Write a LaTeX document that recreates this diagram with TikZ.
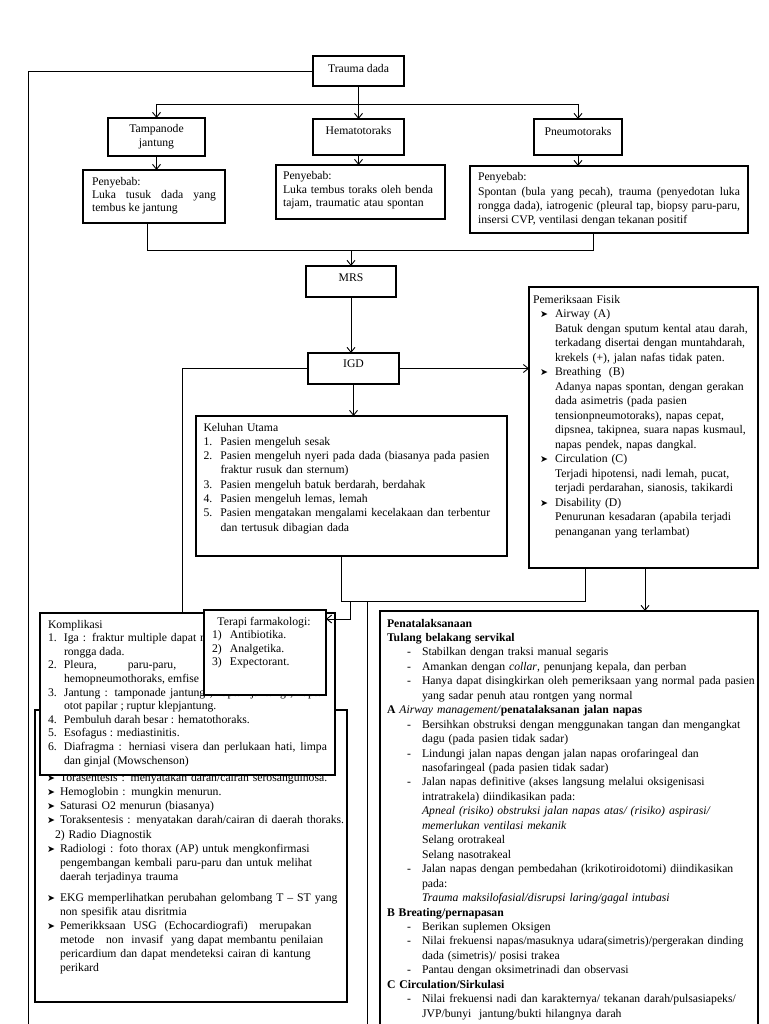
\documentclass[tikz,border=0pt]{standalone}
\usepackage{fontspec}
\setmainfont{Liberation Serif}
\newfontfamily\symf{DejaVu Sans}
\usetikzlibrary{arrows.meta}
\hyphenpenalty=10000
\exhyphenpenalty=10000
\newcommand\bulx{{\symf\fontsize{9.5}{10}\selectfont ➤}}
\newcommand\pemB[1]{\hspace*{7pt}\makebox[15pt][l]{\bulx}#1}
\newcommand\pemC[1]{\hspace*{22pt}#1}
\newcommand\labB[1]{\makebox[13pt][l]{\bulx}#1}
\newcommand\labC[1]{\hspace*{13pt}#1}
\newcommand\penD[1]{\hspace*{20pt}\makebox[15pt][l]{-}#1}
\newcommand\penC[1]{\hspace*{35pt}#1}
\newcommand\kelN[2]{\makebox[17pt][l]{#1}#2}
\newcommand\komN[1]{\makebox[16pt][l]{#1}}
\begin{document}
\begin{tikzpicture}[x=1pt,y=-1pt,
  box/.style={draw, line width=1.3pt, fill=white, inner sep=0pt, outer sep=0pt, rectangle},
  txt/.style={inner sep=0pt, outer sep=0pt, font=\fontsize{11.7}{14.3}\selectfont},
  ln/.style={line width=0.9pt},
  arr/.style={line width=0.9pt, -{Straight Barb[length=5pt,width=8pt]}}]
\useasboundingbox (0,0) rectangle (768,1024);
\clip (0,0) rectangle (768,1024);

% ---------- top level ----------
\node[box, minimum width=91pt, minimum height=30pt] (trauma) at (358.5,71) {};
\node[txt, anchor=base] (traumaT) at (358.5,72.5) {Trauma dada};

\node[box, minimum width=97pt, minimum height=38pt] (tamp) at (156.5,137) {};
\node[txt, anchor=base, text width=95pt, align=center, font=\fontsize{11.7}{14}\selectfont] (tampT) at (156.5,133) {Tampanode\\jantung};

\node[box, minimum width=91pt, minimum height=36pt] (hem) at (358.5,137) {};
\node[txt, anchor=base] (hemT) at (358.5,135) {Hematotoraks};

\node[box, minimum width=88pt, minimum height=36pt] (pneu) at (578,137) {};
\node[txt, anchor=base] (pneuT) at (578,136) {Pneumotoraks};

% ---------- penyebab ----------
\node[box, minimum width=142pt, minimum height=53pt] (tpen) at (154,196.5) {};
\node[txt, anchor=base west, text width=124pt, align=justify, font=\fontsize{11.7}{13}\selectfont] (tpenT) at (92,186) {Penyebab:\par Luka tusuk dada yang\linebreak tembus ke jantung\par};

\node[box, minimum width=169pt, minimum height=54pt] (hpen) at (360.5,192) {};
\node[txt, anchor=base west, text width=165pt, align=left, font=\fontsize{11.7}{13.5}\selectfont] (hpenT) at (283,180) {Penyebab:\\Luka tembus toraks oleh benda\\tajam, traumatic atau spontan};

\node[box, minimum width=278pt, minimum height=67pt] (ppen) at (609,199.5) {};
\node[txt, anchor=base west, text width=262pt, align=justify, font=\fontsize{11.7}{14.3}\selectfont] (ppenT) at (478,181) {Penyebab:\par Spontan (bula yang pecah), trauma (penyedotan luka\linebreak rongga dada), iatrogenic (pleural tap, biopsy paru-paru,\linebreak insersi CVP, ventilasi dengan tekanan positif\par};

% ---------- MRS / IGD ----------
\node[box, minimum width=90pt, minimum height=31pt] (mrs) at (351,281.5) {};
\node[txt, anchor=base] (mrsT) at (351,281) {MRS};

\node[box, minimum width=91pt, minimum height=31pt] (igd) at (353.5,368.5) {};
\node[txt, anchor=base] (igdT) at (353.5,367) {IGD};

% ---------- Keluhan utama ----------
\node[box, minimum width=311pt, minimum height=140pt] (kel) at (351.5,486) {};
\node[txt, anchor=base west, text width=330pt, align=left, font=\fontsize{11.7}{14.3}\selectfont] (kelT) at (203.5,431) {Keluhan Utama\\
\kelN{1.}{Pasien mengeluh sesak}\\
\kelN{2.}{Pasien mengeluh nyeri pada dada (biasanya pada pasien}\\
\kelN{}{fraktur rusuk dan sternum)}\\
\kelN{3.}{Pasien mengeluh batuk berdarah, berdahak}\\
\kelN{4.}{Pasien mengeluh lemas, lemah}\\
\kelN{5.}{Pasien mengatakan mengalami kecelakaan dan terbentur}\\
\kelN{}{dan tertusuk dibagian dada}};

% ---------- Pemeriksaan fisik ----------
\node[box, minimum width=229pt, minimum height=281pt] (pem) at (643.5,427.5) {};
\node[txt, anchor=base west, text width=260pt, align=left, font=\fontsize{11.7}{14.5}\selectfont] (pemT) at (533,303) {Pemeriksaan Fisik\\
\pemB{Airway (A)}\\
\pemC{Batuk dengan sputum kental atau darah,}\\
\pemC{terkadang disertai dengan muntahdarah,}\\
\pemC{krekels (+), jalan nafas tidak paten.}\\
\pemB{Breathing\ \ (B)}\\
\pemC{Adanya napas spontan, dengan gerakan}\\
\pemC{dada asimetris (pada pasien}\\
\pemC{tensionpneumotoraks), napas cepat,}\\
\pemC{dipsnea, takipnea, suara napas kusmaul,}\\
\pemC{napas pendek, napas dangkal.}\\
\pemB{Circulation (C)}\\
\pemC{Terjadi hipotensi, nadi lemah, pucat,}\\
\pemC{terjadi perdarahan, sianosis, takikardi}\\
\pemB{Disability (D)}\\
\pemC{Penurunan kesadaran (apabila terjadi}\\
\pemC{penanganan yang terlambat)}};

% ---------- Pemeriksaan penunjang (behind) ----------
\node[box, minimum width=312pt, minimum height=292pt] (lab) at (191,856) {};
\node[txt, anchor=base west, text width=330pt, align=left, font=\fontsize{11.7}{14.1}\selectfont] (labT) at (47,781.6) {\labB{Torasentesis : menyatakan darah/cairan serosanguinosa.}\\
\labB{Hemoglobin : mungkin menurun.}\\
\labB{Saturasi O2 menurun (biasanya)}\\
\labB{Toraksentesis : menyatakan darah/cairan di daerah thoraks.}\\
\hspace*{8pt}2) Radio Diagnostik\\
\labB{Radiologi : foto thorax (AP) untuk mengkonfirmasi}\\
\labC{pengembangan kembali paru-paru dan untuk melihat}\\
\labC{daerah terjadinya trauma}\\[6.6pt]
\labB{EKG memperlihatkan perubahan gelombang T -- ST yang}\\
\labC{non spesifik atau disritmia}\\
\labB{Pemerikksaan\ \ USG\ \ (Echocardiografi)\ \ \ merupakan}\\
\labC{metode\ \ \ non\ \ invasif\ \ yang dapat membantu penilaian}\\
\labC{pericardium dan dapat mendeteksi cairan di kantung}\\
\labC{perikard}};

% ---------- Komplikasi ----------
\node[box, minimum width=295pt, minimum height=162pt] (kom) at (187.5,694) {};
\node[txt, anchor=base west, text width=279pt, align=justify, font=\fontsize{11.7}{13.6}\selectfont] (komT) at (48,628) {Komplikasi\par
\hangindent=16pt\komN{1.}Iga : fraktur multiple dapat m\phantom{enyebabkan} \phantom{kelumpuhan}\linebreak rongga dada.\par
\hangindent=16pt\komN{2.}Pleura, paru-paru, b\phantom{ronkhi} \phantom{:} \phantom{hemo/}\linebreak hemopneumothoraks, emfise\phantom{ma} \phantom{pembedahan.}\par
\hangindent=16pt\komN{3.}Jantung : tamponade jantung ; ruptur jantung ; ruptur\linebreak otot papilar ; ruptur klepjantung.\par
\hangindent=16pt\komN{4.}Pembuluh darah besar : hematothoraks.\par
\hangindent=16pt\komN{5.}Esofagus : mediastinitis.\par
\hangindent=16pt\komN{6.}Diafragma : herniasi visera dan perlukaan hati, limpa\linebreak dan ginjal (Mowschenson)\par};

% ---------- Terapi ----------
\node[box, minimum width=122pt, minimum height=85pt] (ter) at (265,652.5) {};
\node[txt, anchor=base] (terH) at (264,625) {Terapi farmakologi:};
\node[txt, anchor=base west, text width=110pt, align=left, font=\fontsize{11.7}{13.5}\selectfont] (terL) at (212,638.5) {\makebox[18pt][l]{1)}Antibiotika.\\
\makebox[18pt][l]{2)}Analgetika.\\
\makebox[18pt][l]{3)}Expectorant.};

% ---------- Penatalaksanaan ----------
\node[box, minimum width=378pt, minimum height=429pt] (pen) at (569,825.5) {};
\node[txt, anchor=base west, text width=380pt, align=left, font=\fontsize{11.7}{14.45}\selectfont] (penT) at (387,627) {\textbf{Penatalaksanaan}\\
\textbf{Tulang belakang servikal}\\
\penD{Stabilkan dengan traksi manual segaris}\\
\penD{Amankan dengan \textit{collar}, penunjang kepala, dan perban}\\
\penD{Hanya dapat disingkirkan oleh pemeriksaan yang normal pada pasien}\\
\penC{yang sadar penuh atau rontgen yang normal}\\
\textbf{A} \textit{Airway management/}\textbf{penatalaksanan jalan napas}\\
\penD{Bersihkan obstruksi dengan menggunakan tangan dan mengangkat}\\
\penC{dagu (pada pasien tidak sadar)}\\
\penD{Lindungi jalan napas dengan jalan napas orofaringeal dan}\\
\penC{nasofaringeal (pada pasien tidak sadar)}\\
\penD{Jalan napas definitive (akses langsung melalui oksigenisasi}\\
\penC{intratrakela) diindikasikan pada:}\\
\penC{\textit{Apneal (risiko) obstruksi jalan napas atas/ (risiko) aspirasi/}}\\
\penC{\textit{memerlukan ventilasi mekanik}}\\
\penC{Selang orotrakeal}\\
\penC{Selang nasotrakeal}\\
\penD{Jalan napas dengan pembedahan (krikotiroidotomi) diindikasikan}\\
\penC{pada:}\\
\penC{\textit{Trauma maksilofasial/disrupsi laring/gagal intubasi}}\\
\textbf{B Breating/pernapasan}\\
\penD{Berikan suplemen Oksigen}\\
\penD{Nilai frekuensi napas/masuknya udara(simetris)/pergerakan dinding}\\
\penC{dada (simetris)/ posisi trakea}\\
\penD{Pantau dengan oksimetrinadi dan observasi}\\
\textbf{C Circulation/Sirkulasi}\\
\penD{Nilai frekuensi nadi dan karakternya/ tekanan darah/pulsasiapeks/}\\
\penC{JVP/bunyi\ \ jantung/bukti hilangnya darah}};

% ---------- connectors ----------
\coordinate (lt) at (28,71);
\coordinate (lbot) at (28,1030);
\draw[ln] (trauma.west) -- (lt) -- (lbot);

\coordinate (br) at (358.5,104);
\draw[arr] (trauma.south) -- (hem.north);
\draw[ln] (br -| tamp.north) -- (br -| pneu.north);
\draw[arr] (br -| tamp.north) -- (tamp.north);
\draw[arr] (br -| pneu.north) -- (pneu.north);
\draw[arr] (tamp.south) -- (tamp.south |- tpen.north);
\draw[arr] (hem.south) -- (hem.south |- hpen.north);
\draw[arr] (pneu.south) -- (pneu.south |- ppen.north);

\coordinate (c1) at (147,250);
\coordinate (c2) at (593,250);
\draw[ln] (tpen.south -| c1) -- (c1) -- (c2) -- (ppen.south -| c2);
\draw[arr] (c1 -| mrs.north) -- (mrs.north);
\draw[arr] (mrs.south) -- (mrs.south |- igd.north);
\draw[arr] (igd.east) -- (igd.east -| pem.west);
\coordinate (k1) at (182,368.5);
\draw[ln] (igd.west) -- (k1) -- (k1 |- kom.north);
\draw[arr] (igd.south) -- (igd.south |- kel.north);

\coordinate (j1) at (341,601);
\coordinate (j2) at (585,601);
\coordinate (j3) at (350,601);
\coordinate (tk) at (350,619);
\coordinate (j4) at (367,601);
\coordinate (j5) at (367,1030);
\draw[ln] (kel.south -| j1) -- (j1) -- (j2) -- (pem.south -| j2);
\draw[arr] (j3) -- (tk) -- (tk -| ter.east);
\draw[ln] (j4) -- (j5);
\coordinate (pa) at (645,600);
\draw[arr] (pem.south -| pa) -- (pen.north -| pa);
\end{tikzpicture}
\end{document}
